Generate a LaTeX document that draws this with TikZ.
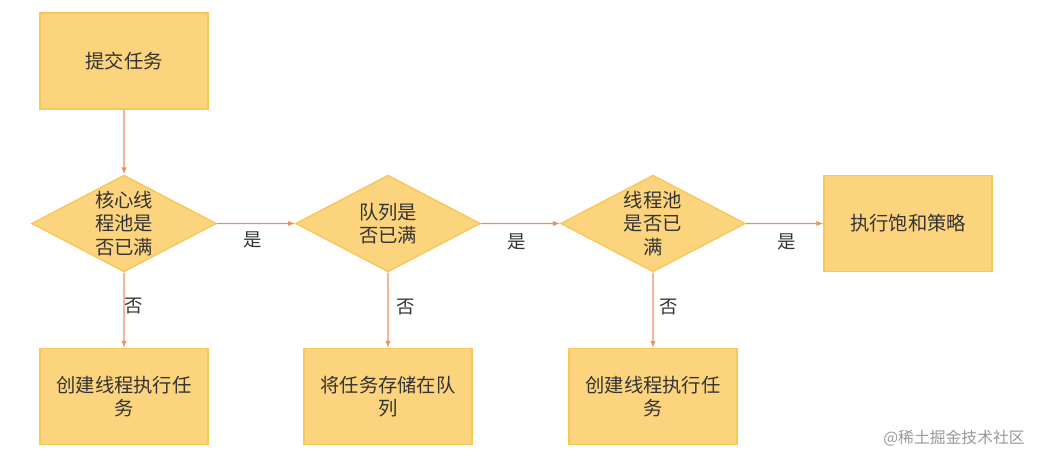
\documentclass[tikz,border=0pt]{standalone}
\usepackage{fontspec}
\setmainfont{Noto Sans CJK SC}
\usetikzlibrary{shapes.geometric,arrows.meta}
\definecolor{boxfill}{HTML}{FDD47E}
\definecolor{boxline}{HTML}{F8C65A}
\definecolor{flowline}{HTML}{EF8F5C}
\definecolor{textgray}{HTML}{333333}
\begin{document}
\begin{tikzpicture}[scale=0.2]
\tikzstyle{every node}+=[inner sep=0pt, text=textgray, font=\fontsize{11}{13.2}\selectfont]
\tikzstyle{process}=[rectangle, draw=boxline, fill=boxfill, line width=0.8pt, minimum width=95.6pt, minimum height=54.6pt, align=center]
\tikzstyle{decision}=[diamond, draw=boxline, fill=boxfill, line width=0.8pt, minimum width=105pt, minimum height=55pt]
\tikzstyle{flow}=[draw=flowline, line width=0.6pt, -{Latex[length=4pt,width=3pt]}]
\tikzstyle{answer}=[font=\fontsize{10.5}{12}\selectfont]
\useasboundingbox (0,0) rectangle (105,-46.4);
% boxes
\node [process] (submit) at (12.4,-6.1) {提交任务};
\node [process] (create1) at (12.4,-39.65) {创建线程执行任\\务};
\node [process] (queue) at (38.8,-39.65) {将任务存储在队\\列};
\node [process] (create2) at (65.3,-39.65) {创建线程执行任\\务};
\node [process] (reject) at (90.8,-22.35) {执行饱和策略};
% decisions
\node [decision] (core) at (12.4,-22.35) {};
\draw (core) node [align=center] {核心线\\程池是\\否已满};
\node [decision] (full) at (38.8,-22.35) {};
\draw (full) node [align=center] {队列是\\否已满};
\node [decision] (pool) at (65.3,-22.35) {};
\draw (pool) node [align=center] {线程池\\是否已\\满};
% connectors
\draw [flow] (submit) -- (core);
\draw [flow] (core) -- (full);
\draw [flow] (full) -- (pool);
\draw [flow] (pool) -- (reject);
\draw [flow] (core) -- (create1);
\draw [flow] (full) -- (queue);
\draw [flow] (pool) -- (create2);
\draw (25.3,-24.0) node [answer] {是};
\draw (51.7,-24.2) node [answer] {是};
\draw (78.7,-24.2) node [answer] {是};
\draw (13.4,-30.6) node [answer] {否};
\draw (40.6,-30.7) node [answer] {否};
\draw (66.9,-30.7) node [answer] {否};
\draw (95.4,-43.8) node [text=black!40, font=\fontsize{9}{10}\selectfont] {@稀土掘金技术社区};
\end{tikzpicture}
\end{document}
